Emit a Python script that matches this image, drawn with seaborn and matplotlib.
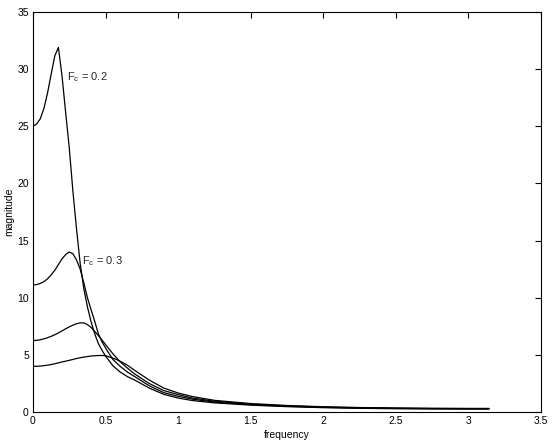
import matplotlib
matplotlib.use("Agg")
import matplotlib.pyplot as plt
import pandas as pd
import seaborn as sns
from matplotlib.ticker import FixedLocator, FixedFormatter

frequency = [0, 0.025, 0.05, 0.075, 0.1, 0.125, 0.15, 0.175, 0.2, 0.225,
             0.25, 0.275, 0.3, 0.325, 0.35, 0.375, 0.4, 0.425, 0.45, 0.475,
             0.5, 0.55, 0.6, 0.65, 0.7, 0.8, 0.9, 1.0, 1.1, 1.25,
             1.5, 1.75, 2.0, 2.25, 2.5, 2.75, 3.0, 3.1416]

mag_fc02 = [25.0, 25.2, 25.65, 26.55, 27.9, 29.55, 31.15, 31.9, 29.4, 26.2,
            23.1, 19.3, 16.0, 13.0, 10.8, 9.2, 7.9, 6.85, 6.0, 5.4,
            4.9, 4.05, 3.5, 3.1, 2.8, 2.1, 1.55, 1.22, 1.0, 0.8,
            0.6, 0.47, 0.38, 0.32, 0.29, 0.27, 0.26, 0.26]

mag_fc03 = [11.1, 11.15, 11.25, 11.4, 11.65, 12.0, 12.4, 12.9, 13.4, 13.78,
            14.0, 13.85, 13.3, 12.5, 11.3, 10.0, 8.95, 7.95, 6.85, 6.15,
            5.6, 4.6, 4.0, 3.5, 3.1, 2.3, 1.7, 1.37, 1.12, 0.87,
            0.64, 0.5, 0.41, 0.35, 0.31, 0.29, 0.28, 0.28]

mag_fc04 = [6.25, 6.27, 6.32, 6.4, 6.5, 6.62, 6.76, 6.92, 7.1, 7.28,
            7.45, 7.6, 7.72, 7.8, 7.8, 7.65, 7.4, 7.05, 6.7, 6.3,
            5.9, 5.1, 4.4, 3.85, 3.33, 2.5, 1.88, 1.52, 1.22, 0.94,
            0.68, 0.53, 0.43, 0.37, 0.33, 0.31, 0.3, 0.3]

mag_fc05 = [4.0, 4.0, 4.02, 4.05, 4.1, 4.15, 4.22, 4.3, 4.38, 4.45,
            4.52, 4.6, 4.68, 4.75, 4.8, 4.85, 4.9, 4.92, 4.94, 4.95,
            4.92, 4.72, 4.45, 4.1, 3.65, 2.8, 2.1, 1.66, 1.35, 1.02,
            0.74, 0.57, 0.46, 0.39, 0.35, 0.32, 0.31, 0.31]

fc_values = ["0.2", "0.3", "0.4", "0.5"]
x_tick_labels = ["0", "0.5", "1", "1.5", "2", "2.5", "3", "3.5"]
y_tick_labels = ["0", "5", "10", "15", "20", "25", "30", "35"]

series = [mag_fc02, mag_fc03, mag_fc04, mag_fc05]
rows = []
for fc, mags in zip(fc_values, series):
    for f, m in zip(frequency, mags):
        rows.append({"frequency": f, "magnitude": m, "Fc": fc})
df = pd.DataFrame(rows)

sns.set_theme(style="white")
plt.rcParams["font.family"] = ["Liberation Sans", "DejaVu Sans"]
plt.rcParams["mathtext.fontset"] = "custom"
plt.rcParams["mathtext.rm"] = "Liberation Sans"
plt.rcParams["mathtext.it"] = "Liberation Sans"

fig = plt.figure(figsize=(5.55, 4.43), dpi=100)
ax = fig.add_axes([33 / 555, 31 / 443, 508 / 555, 400 / 443])

sns.lineplot(data=df, x="frequency", y="magnitude", hue="Fc",
             palette=["black"] * 4, legend=False, linewidth=0.9,
             estimator=None, sort=False, ax=ax)

ax.set_xlim(0, 3.5)
ax.set_ylim(0, 35)
ax.xaxis.set_major_locator(FixedLocator([0, 0.5, 1, 1.5, 2, 2.5, 3, 3.5]))
ax.xaxis.set_major_formatter(FixedFormatter(x_tick_labels))
ax.yaxis.set_major_locator(FixedLocator([0, 5, 10, 15, 20, 25, 30, 35]))
ax.yaxis.set_major_formatter(FixedFormatter(y_tick_labels))
ax.tick_params(direction="in", top=True, right=True, length=4, width=0.8,
               labelsize=7.5, colors="black", pad=3)
for s in ax.spines.values():
    s.set_visible(True)
    s.set_color("black")
    s.set_linewidth(0.8)

ax.set_xlabel("frequency", fontsize=7.5, color="black", labelpad=3)
ax.set_ylabel("magnitude", fontsize=7.5, color="black", labelpad=2)

ax.text(0.234, 29.3, r"F$_\mathrm{c}$ = 0.2", fontsize=8, va="center", ha="left")
ax.text(0.337, 13.2, r"F$_\mathrm{c}$ = 0.3", fontsize=8, va="center", ha="left")

fig.savefig("out.png", dpi=100, facecolor="white")
